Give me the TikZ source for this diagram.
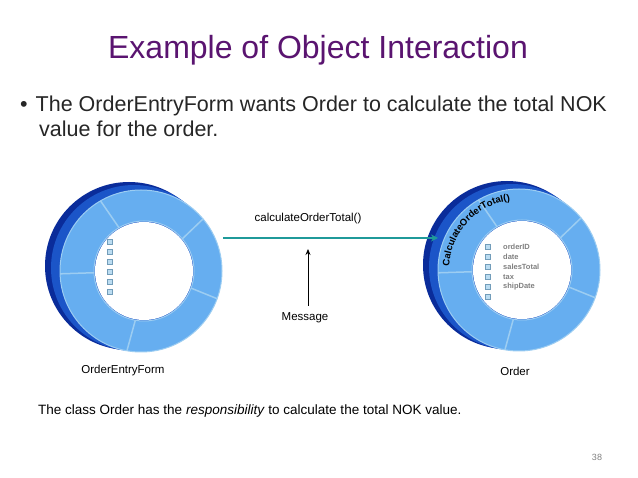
\documentclass[tikz,border=0pt]{standalone}
\usepackage{fontspec}
\setmainfont{Liberation Sans}
\usetikzlibrary{arrows.meta,decorations.text,calc}
\definecolor{ttl}{HTML}{5A1470}
\definecolor{ring}{HTML}{66AEF0}
\definecolor{ringedge}{HTML}{9CCDF2}
\definecolor{backA}{HTML}{1B55C8}
\definecolor{backB}{HTML}{0A2C9A}
\definecolor{teal}{HTML}{1F9A9A}
\definecolor{sq}{HTML}{8EC4E8}
\tikzset{
  sqbox/.style={draw=sq!80!black,fill=sq!60,minimum size=5pt,inner sep=0pt},
  attr/.style={font=\fontsize{7.5}{8}\selectfont\bfseries,text=gray,anchor=west,inner sep=0pt},
  lbl/.style={font=\fontsize{11.5}{13}\selectfont,inner sep=0pt}
}
\newcommand{\donut}[3]{% cx, cy, name
  \fill[backB] (#1-12,#2-5) circle (84);
  \fill[backA] (#1-7,#2-3) circle (83);
  \fill[ring,draw=ringedge,line width=1pt,even odd rule] (#1,#2) circle (81) (#1+3,#2) circle (50);
  \foreach \a in {100,20,-40,-120,178}{
    \draw[ringedge,line width=1.5pt] ($(#1+3,#2)+(\a:50)$) -- ($(#1,#2)+(\a:81)$);}
  \fill[white] (#1+3,#2) circle (49);
  \coordinate (#3) at (#1,#2);
}
\begin{document}
\begin{tikzpicture}[x=1pt,y=-1pt]
\useasboundingbox (0,0) rectangle (638,478);
\fill[white] (0,0) rectangle (638,478);
\node[text=ttl,font=\fontsize{32}{36}\selectfont] (title) at (318,50) {Example of Object Interaction};
\node[anchor=north west,align=left,font=\fontsize{21.5}{25}\selectfont,inner sep=0pt,text=black!85] (bul) at (20,96)
 {\textbullet\hspace{8pt}The OrderEntryForm wants Order to calculate the total NOK\\\hspace{19pt}value for the order.};
\donut{141}{271}{left}
\donut{519}{270}{right}
\foreach \i in {0,...,5}{\node[sqbox] (ls\i) at (110,242+10*\i) {};}
\foreach \i/\t in {0/orderID,1/date,2/salesTotal,3/tax,4/shipDate}{
  \node[sqbox] (rs\i) at (488,247+10*\i) {};
  \node[attr] (rt\i) at (503,247+10*\i) {\t};}
\node[sqbox] (rs5) at (488,297) {};
\begin{scope}[shift={(519,270)},y=1pt]
\path[decorate,decoration={text along path,text align=center,
  text={|\fontsize{9.5}{10}\selectfont\bfseries|CalculateOrderTotal()}}]
  (186:70) arc[start angle=186,end angle=88,radius=70];
\end{scope}
\coordinate (as) at (223,238);
\coordinate (ae) at (438,238);
\draw[teal,line width=1.6pt,-{Stealth[length=7pt,width=7pt]}] (as) -- (ae);
\node[lbl] (call) at (308,219) {calculateOrderTotal()};
\node[lbl] (msg) at (305,318) {Message};
\draw[-{Stealth[length=6pt,width=5pt]},line width=0.8pt] (308,306) -- (308,249);
\node[lbl] (lo) at (123,371) {OrderEntryForm};
\node[lbl] (ro) at (515,371) {Order};
\node[lbl,anchor=west,font=\fontsize{13.5}{15}\selectfont] (bt) at (38,411) {The class Order has the \textit{responsibility} to calculate the total NOK value.};
\node[font=\fontsize{9}{10}\selectfont,text=gray] (pg) at (597,457) {38};
\end{tikzpicture}
\end{document}
